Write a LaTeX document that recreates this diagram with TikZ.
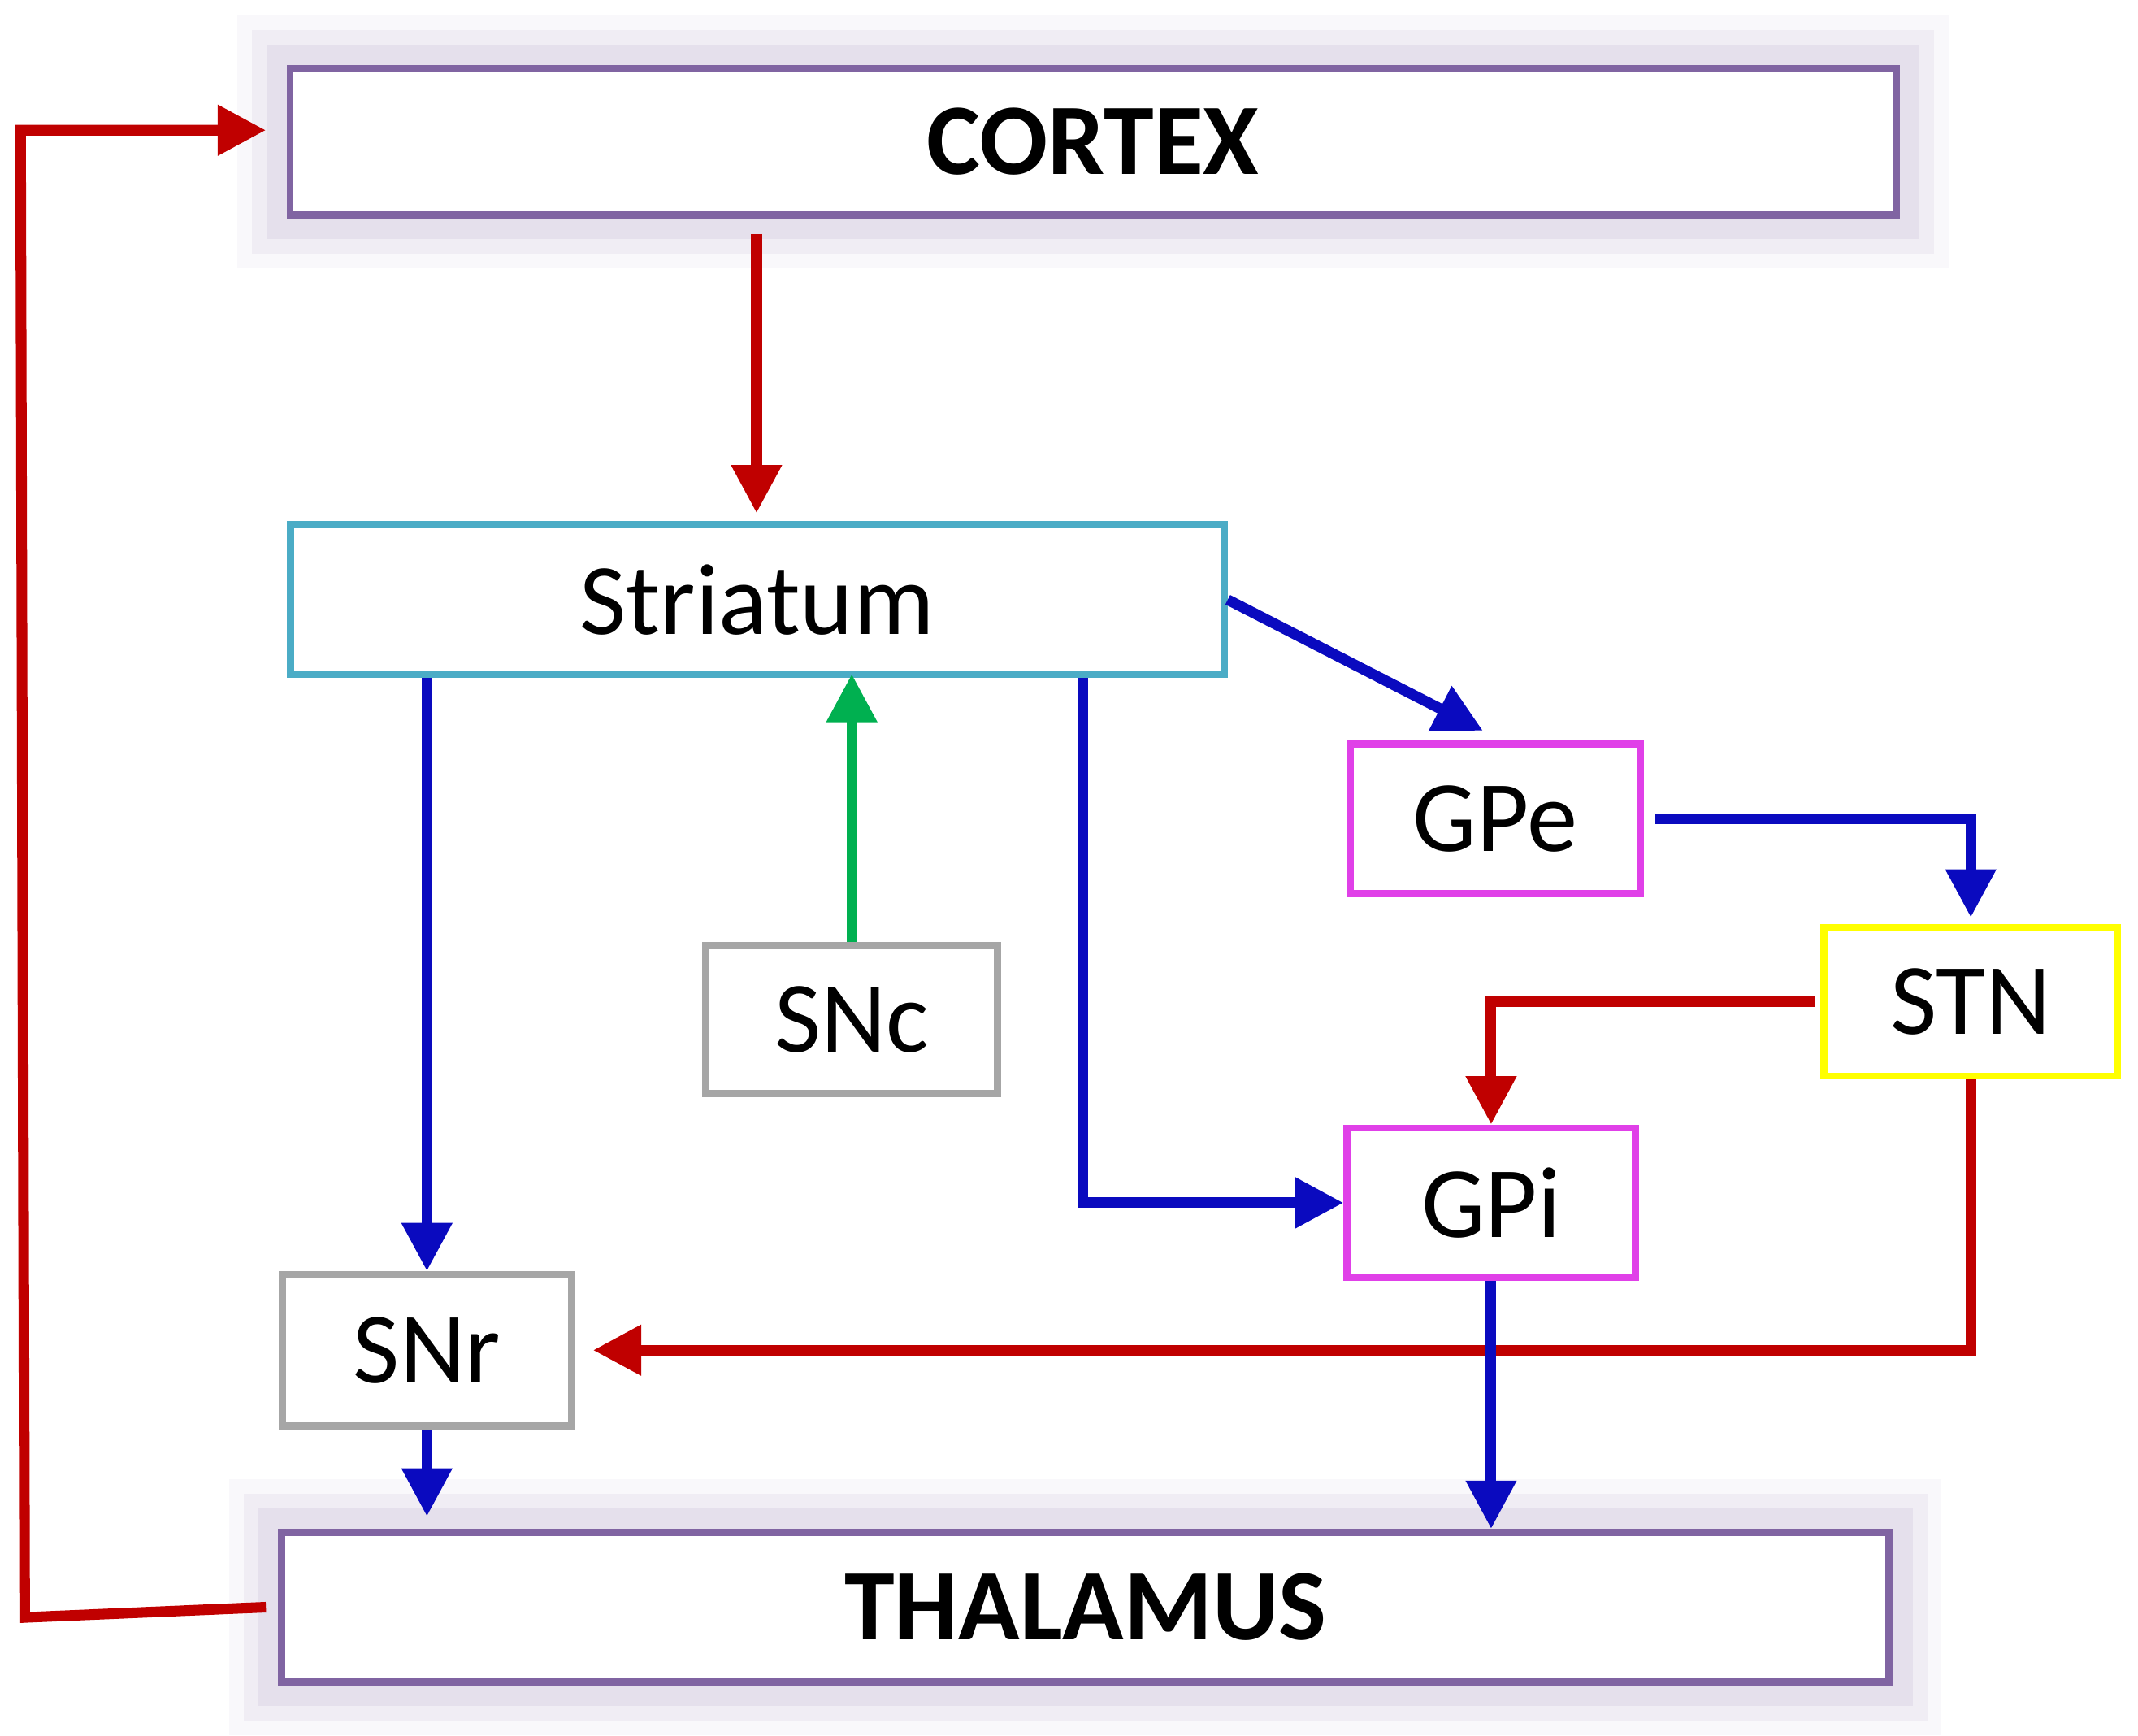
\documentclass[tikz,border=0pt]{standalone}
\usepackage{fontspec}
\setmainfont{Carlito}
\usetikzlibrary{arrows.meta}
\definecolor{cred}{HTML}{C00000}
\definecolor{cblue}{HTML}{0A0ABF}
\definecolor{cgreen}{HTML}{00B050}
\definecolor{cpurp}{HTML}{8064A2}
\definecolor{ccyan}{HTML}{4BACC6}
\definecolor{cmag}{HTML}{E040E8}
\definecolor{cyel}{HTML}{FFFF00}
\definecolor{cgray}{HTML}{A6A6A6}
\tikzset{
 box/.style={draw,line width=1.5pt,fill=white,inner sep=0pt,font=\fontsize{21}{24}\selectfont},
 arr/.style={line width=2.2pt,-{Triangle[length=10pt,width=10pt]}},
}
\begin{document}
\begin{tikzpicture}[x=0.01cm,y=-0.01cm]
\useasboundingbox (0,0) rectangle (1560,1266);
% glow
\foreach \w/\o in {22/0.08,16/0.12,10/0.18}{
 \draw[cpurp!60,line width=\w pt,opacity=\o] (212,50) rectangle (1383,157);
 \draw[cpurp!60,line width=\w pt,opacity=\o] (206,1118) rectangle (1378,1227);
}
\node[box,draw=cpurp,minimum width=11.71cm,minimum height=1.07cm,font=\fontsize{21}{24}\selectfont\bfseries] (cortex) at (797.5,103.5) {CORTEX};
\node[box,draw=cpurp,minimum width=11.72cm,minimum height=1.09cm,font=\fontsize{21}{24}\selectfont\bfseries] (thal) at (792,1172.5) {THALAMUS};
\node[box,draw=ccyan,minimum width=6.81cm,minimum height=1.09cm] (str) at (552.5,437.5) {Striatum};
\node[box,draw=cmag,minimum width=2.12cm,minimum height=1.09cm] (gpe) at (1091,597.5) {GPe};
\node[box,draw=cyel,minimum width=2.14cm,minimum height=1.08cm] (stn) at (1438,731) {STN};
\node[box,draw=cgray,minimum width=2.13cm,minimum height=1.08cm] (snc) at (621.5,744) {SNc};
\node[box,draw=cmag,minimum width=2.10cm,minimum height=1.09cm] (gpi) at (1088,877.5) {GPi};
\node[box,draw=cgray,minimum width=2.11cm,minimum height=1.10cm] (snr) at (311.5,985) {SNr};
\coordinate (tl1) at (18,1180);
\coordinate (tl2) at (15,95);
\draw[arr,cred] ([yshift=-0.11cm]cortex.south -| 552,0) -- ([yshift=0.06cm]str.north -| 552,0);
\draw[arr,cblue] (str.east) -- (1082,533);
\draw[arr,cblue] ([xshift=0.08cm]gpe.east) -| ([yshift=0.05cm]stn.north);
\draw[arr,cred] ([xshift=-0.04cm]stn.west) -| (gpi.north);
\draw[arr,cblue] (str.south -| 790,0) |- (gpi.west);
\draw[arr,cgreen] (snc.north) -- ([yshift=0.03cm]str.south -| snc.north);
\draw[arr,cblue] (str.south -| snr.north) -- (snr.north);
\draw[arr,cred] (stn.south) |- ([xshift=0.13cm]snr.east);
\draw[arr,cblue] (gpi.south) -- (thal.north -| gpi.south);
\draw[arr,cblue] (snr.south) -- ([yshift=0.09cm]thal.north -| snr.south);
\draw[arr,cred] ([xshift=-0.09cm]thal.west) -- (tl1) -- (tl2) -- ([xshift=-0.15cm]cortex.west |- tl2);
\end{tikzpicture}
\end{document}
